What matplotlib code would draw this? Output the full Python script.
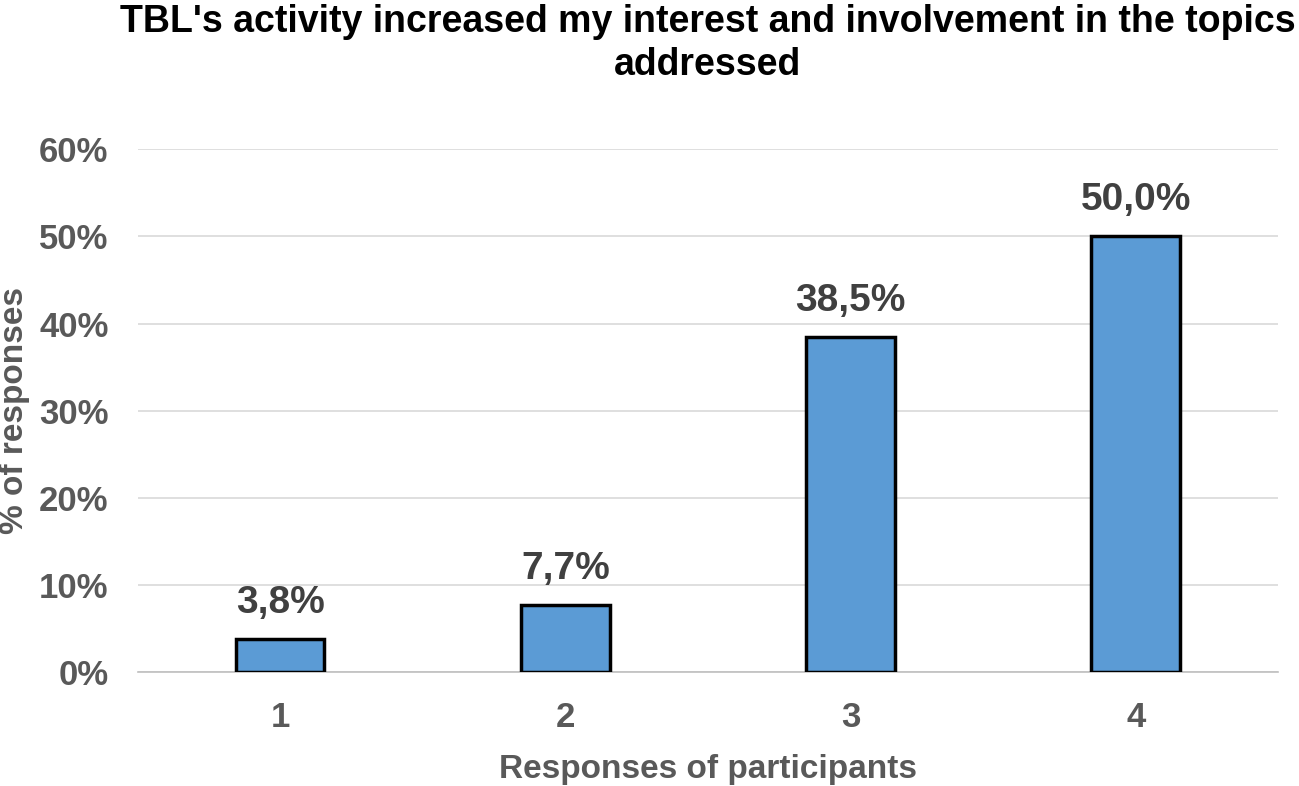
import matplotlib
matplotlib.use("Agg")
import matplotlib.pyplot as plt

categories = ["1", "2", "3", "4"]
values = [3.8, 7.7, 38.5, 50.0]
labels = ["3,8%", "7,7%", "38,5%", "50,0%"]
yticks = [0, 10, 20, 30, 40, 50, 60]

plt.rcParams["font.family"] = ["Liberation Sans", "DejaVu Sans"]
plt.rcParams["font.weight"] = "bold"

fig = plt.figure(figsize=(12.99, 7.86), dpi=100)
ax = fig.add_axes([0.106, 0.145, 0.878, 0.665])

x = range(len(categories))
ax.bar(x, values, width=0.31, color="#5b9bd5", edgecolor="black", linewidth=2.5, zorder=3)
for xi, v, lab in zip(x, values, labels):
    ax.annotate(lab, (xi, v), textcoords="offset points", xytext=(0, 13),
                ha="center", va="bottom", fontsize=28, fontweight="bold", color="#404040")

ax.set_xlim(-0.5, 3.5)
ax.set_ylim(0, 60)
ax.set_yticks(yticks)
ax.set_yticklabels([f"{t}%" for t in yticks])
ax.set_xticks(list(x))
ax.set_xticklabels(categories)
ax.tick_params(axis="y", length=0, labelsize=25, labelcolor="#595959", pad=21)
ax.tick_params(axis="x", length=0, labelsize=25, labelcolor="#595959", pad=21)
ax.grid(axis="y", color="#d9d9d9", linewidth=1.2, zorder=0)
for s in ["top", "right", "left"]:
    ax.spines[s].set_visible(False)
ax.spines["bottom"].set_color("#bfbfbf")
ax.spines["bottom"].set_linewidth(1.2)

ax.set_xlabel("Responses of participants", fontsize=24, fontweight="bold", color="#595959", labelpad=14)
ax.set_ylabel("% of responses", fontsize=24, fontweight="bold", color="#595959", va="center")
ax.yaxis.set_label_coords(-0.108, 0.5)
fig.suptitle("TBL's activity increased my interest and involvement in the topics\naddressed",
             x=0.545, y=0.995, fontsize=27, fontweight="bold", color="black", linespacing=1.25)

fig.savefig("out.png", dpi=100)
